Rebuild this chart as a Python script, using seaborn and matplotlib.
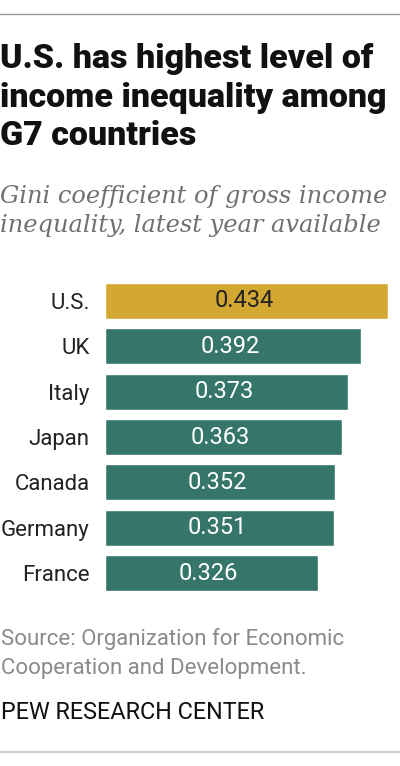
import matplotlib
matplotlib.use("Agg")
import matplotlib.pyplot as plt
import seaborn as sns
import pandas as pd
from matplotlib.lines import Line2D

# data
countries = ["U.S.", "UK", "Italy", "Japan", "Canada", "Germany", "France"]
gini = [0.434, 0.392, 0.373, 0.363, 0.352, 0.351, 0.326]
bar_colors = ["#D2A832", "#36766A", "#36766A", "#36766A", "#36766A", "#36766A", "#36766A"]
value_colors = ["#222222", "white", "white", "white", "white", "white", "white"]

df = pd.DataFrame({"country": countries, "gini": gini})

sns.set_style("white")
plt.rcParams["font.family"] = ["Roboto", "DejaVu Sans"]

W, H = 400, 766
fig = plt.figure(figsize=(W / 100, H / 100), dpi=100)


def fy(px):
    return 1 - px / H


# bar area: x 105..388 px, y 283..591 px
ax = fig.add_axes([105 / W, fy(591), 283 / W, 308 / H])
sns.barplot(data=df, x="gini", y="country", hue="country", palette=bar_colors,
            legend=False, width=0.79, saturation=1, ax=ax, orient="h")
ax.set_xlim(0, 0.434)
ax.set_ylim(6.395, -0.395)
ax.set_xlabel("")
ax.set_ylabel("")
ax.set_xticks([])
ax.tick_params(axis="y", length=0, pad=11, labelsize=16, labelcolor="#222222")
sns.despine(ax=ax, left=True, bottom=True)

for i, (v, c) in enumerate(zip(gini, value_colors)):
    ax.text(v / 2 - 0.004, i, f"{v:.3f}", ha="center", va="center",
            fontsize=17, color=c)

# title
title_lines = ["U.S. has highest level of", "income inequality among", "G7 countries"]
for line, y in zip(title_lines, [68, 107, 145]):
    fig.text(0.5 / W, fy(y), line, fontsize=24.5, fontweight="heavy",
             color="#111111", va="baseline", ha="left")

# subtitle
sub_lines = ["Gini coefficient of gross income", "inequality, latest year available"]
for line, y in zip(sub_lines, [203, 232]):
    fig.text(0.5 / W, fy(y), line, fontsize=17.4, fontstyle="italic",
             family="DejaVu Serif", color="#707070", va="baseline", ha="left")

# notes
fig.text(1 / W, fy(645), "Source: Organization for Economic", fontsize=16,
         color="#8a8a8a", va="baseline")
fig.text(1 / W, fy(674), "Cooperation and Development.", fontsize=16,
         color="#8a8a8a", va="baseline")
fig.text(1 / W, fy(719), "PEW RESEARCH CENTER", fontsize=16.8,
         color="#111111", va="baseline")

# rules
fig.add_artist(Line2D([0, 1], [fy(14), fy(14)], color="#999999", lw=1))
fig.add_artist(Line2D([0, 1], [fy(752), fy(752)], color="#cccccc", lw=1.5))

fig.savefig("out.png", dpi=100)
